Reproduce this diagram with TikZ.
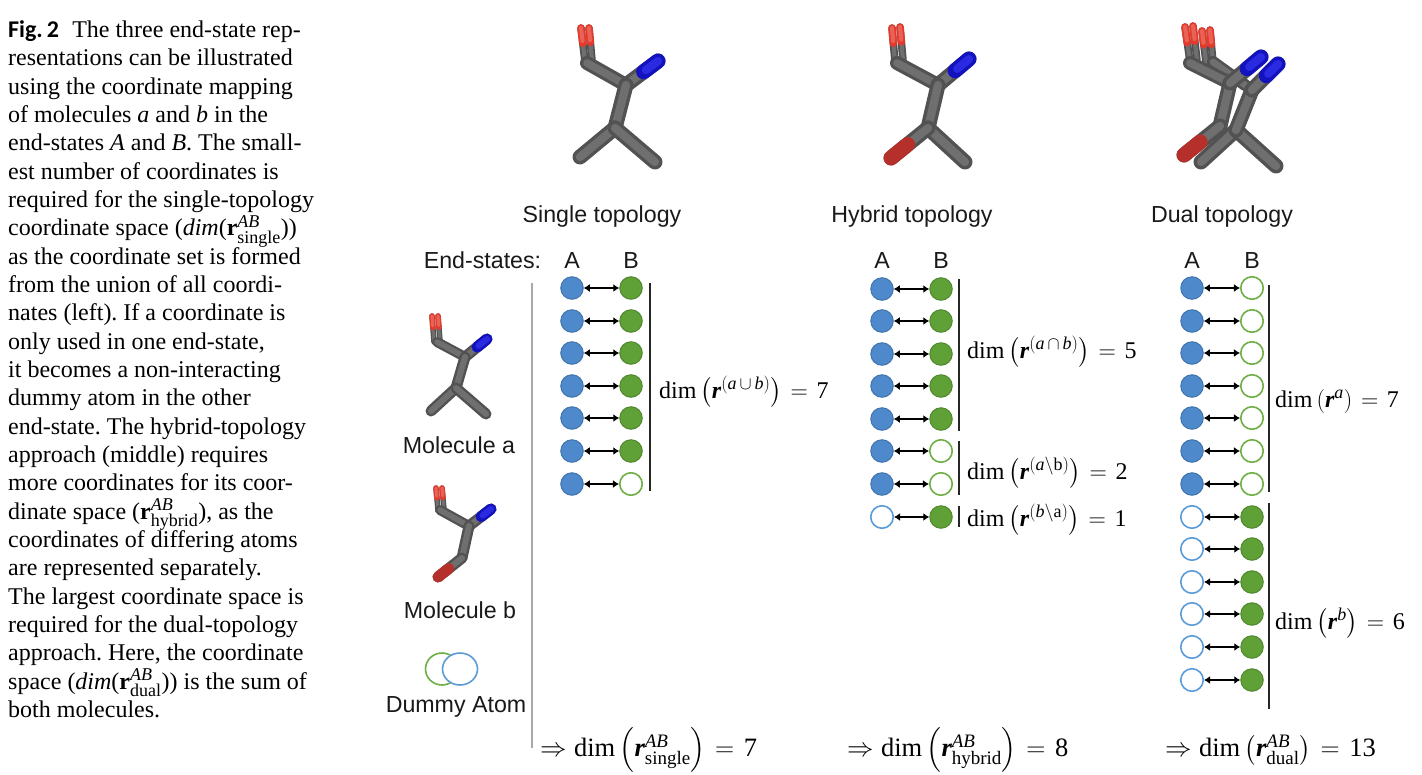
\RequirePackage{fix-cm}
\documentclass[tikz,border=0pt]{standalone}
\usepackage{amsmath}
\usepackage{fontspec}
\setmainfont{Liberation Serif}
\setsansfont{Liberation Sans}
\newfontfamily\figfont{Carlito}
\usetikzlibrary{arrows.meta,calc,shapes.geometric}
\DeclareMathSizes{24}{24}{18}{13}
\DeclareMathSizes{26.5}{26.5}{19}{14}
\setlength{\lineskiplimit}{-20pt}
\setlength{\normallineskiplimit}{-20pt}
\definecolor{dotblue}{HTML}{4E89CB}
\definecolor{dotblueedge}{HTML}{3F74AD}
\definecolor{dotgreen}{HTML}{5FA136}
\definecolor{dotgreenedge}{HTML}{50882E}
\definecolor{hollowblue}{HTML}{5B9BD5}
\definecolor{hollowgreen}{HTML}{6DAE45}
\definecolor{stickdark}{HTML}{525252}
\definecolor{sticklight}{HTML}{6F6F6F}
\definecolor{oxy}{HTML}{E5392B}
\definecolor{oxydark}{HTML}{B5302A}
\definecolor{nitro}{HTML}{1212BE}
\definecolor{nitrolight}{HTML}{2A2AE0}
\definecolor{rulegray}{HTML}{A8A8A8}
\newcommand\rvec{\text{\bfseries\itshape r}}
\newcommand\eqto[1]{\mkern1.5mu=\mkern1.5mu\mathrm{#1}}
% gray bond: start, end, width
\newcommand\gbond[3]{%
  \draw[line cap=round,stickdark,line width=#3pt] #1 -- #2;
  \draw[line cap=round,sticklight,line width=.55*#3pt] #1 -- #2;}
% half coloured bond: start, end, width, colour, light colour
\newcommand\cbond[5]{%
  \gbond{#1}{#2}{#3}
  \draw[line cap=round,#4,line width=#3pt] ($#1!0.55!#2$) -- #2;
  \draw[line cap=round,#5,line width=.55*#3pt] ($#1!0.62!#2$) -- #2;}
\tikzset{
  sanslabel/.style={font=\sffamily\fontsize{23.2}{27}\selectfont,text=black!90,inner sep=0pt,anchor=base},
  mathlabel/.style={font=\fontsize{24}{28}\selectfont,inner sep=0pt,anchor=west},
  sumlabel/.style={font=\fontsize{26.5}{30}\selectfont,inner sep=0pt,anchor=west},
  atom/.style={circle,inner sep=0pt,minimum size=22.5pt,line width=1pt},
  atomA/.style={atom,fill=dotblue,draw=dotblueedge},
  atomB/.style={atom,fill=dotgreen,draw=dotgreenedge},
  dummyA/.style={atom,fill=white,draw=hollowblue,line width=1.6pt},
  dummyB/.style={atom,fill=white,draw=hollowgreen,line width=1.6pt},
  link/.style={{Latex[length=6pt,width=8pt]}-{Latex[length=6pt,width=8pt]},line width=1.4pt,black},
  groupbar/.style={line width=1.9pt,black!85},
}
\begin{document}
\begin{tikzpicture}[x=1pt,y=-1pt]
\useasboundingbox (0,0) rectangle (1422,774);
% caption
\node[anchor=north west,inner sep=0pt,align=left,font=\fontsize{24}{28.33}\selectfont\frenchspacing] (caption) at (8,20.5) {%
{\figfont\bfseries Fig.\,2}\hspace{0.55em}The three end-state rep-\\
resentations can be illustrated\\
using the coordinate mapping\\
of molecules \textit{a} and \textit{b} in the\\
end-states \textit{A} and \textit{B}. The small-\\
est number of coordinates is\\
required for the single-topology\\
coordinate space (\textit{dim}($\mathbf{r}^{\mathit{AB}}_{\mathrm{single}}$))\\
as the coordinate set is formed\\
from the union of all coordi-\\
nates (left). If a coordinate is\\
only used in one end-state,\\
it becomes a non-interacting\\
dummy atom in the other\\
end-state. The hybrid-topology\\
approach (middle) requires\\
more coordinates for its coor-\\
dinate space ($\mathbf{r}^{\mathit{AB}}_{\mathrm{hybrid}}$), as the\\
coordinates of differing atoms\\
are represented separately.\\
The largest coordinate space is\\
required for the dual-topology\\
approach. Here, the coordinate\\
space (\textit{dim}($\mathbf{r}^{\mathit{AB}}_{\mathrm{dual}}$)) is the sum of\\
both molecules.};
% top molecule: single
\cbond{(585,62)}{(581,28)}{7.5}{oxy}{oxy!80!white}
\cbond{(592,60)}{(589,28)}{7.5}{oxy}{oxy!80!white}
\gbond{(587,63)}{(626,85)}{14}
\cbond{(626,85)}{(658,61)}{15}{nitro}{nitrolight}
\gbond{(626,85)}{(615,128)}{15}
\gbond{(615,128)}{(580,157)}{15}
\gbond{(615,128)}{(655,162)}{15}
% top molecule: hybrid
\cbond{(895,62)}{(892,28)}{7.5}{oxy}{oxy!80!white}
\cbond{(903,60)}{(900,27)}{7.5}{oxy}{oxy!80!white}
\gbond{(897,63)}{(938,85)}{14}
\cbond{(938,85)}{(969,59)}{15}{nitro}{nitrolight}
\gbond{(938,85)}{(928,128)}{15}
\gbond{(928,128)}{(965,162)}{15}
\cbond{(928,128)}{(891,158)}{15}{oxydark}{oxydark}
% top molecule: dual
\cbond{(1213,62)}{(1210,30)}{7.5}{oxy}{oxy!80!white}
\cbond{(1206,62)}{(1202,31)}{7.5}{oxy}{oxy!80!white}
\gbond{(1213,62)}{(1245,85)}{12}
\cbond{(1190,62)}{(1185,27)}{7.5}{oxy}{oxy!80!white}
\cbond{(1197,60)}{(1193,26)}{7.5}{oxy}{oxy!80!white}
\gbond{(1190,63)}{(1230,83)}{14}
\gbond{(1230,83)}{(1220,126)}{15}
\cbond{(1220,126)}{(1184,155)}{15}{oxydark}{oxydark}
\gbond{(1236,130)}{(1201,162)}{15}
\gbond{(1236,130)}{(1276,166)}{15}
\gbond{(1252,90)}{(1236,130)}{15}
\cbond{(1230,83)}{(1261,57)}{15}{nitro}{nitrolight}
\cbond{(1252,90)}{(1278,64)}{15}{nitro}{nitrolight}
% molecule a
\cbond{(434,342)}{(432,316)}{5.5}{oxy}{oxy!80!white}
\cbond{(440,341)}{(438,316)}{5.5}{oxy}{oxy!80!white}
\gbond{(437,342)}{(465,357)}{10}
\cbond{(465,357)}{(487,339)}{11}{nitro}{nitrolight}
\gbond{(465,357)}{(456,388)}{11}
\gbond{(456,388)}{(431,411)}{11}
\gbond{(456,388)}{(486,414)}{11}
% molecule b
\cbond{(438,510)}{(436,488)}{5.5}{oxy}{oxy!80!white}
\cbond{(444,509)}{(442,488)}{5.5}{oxy}{oxy!80!white}
\gbond{(440,510)}{(469,526)}{10}
\cbond{(469,526)}{(491,509)}{11}{nitro}{nitrolight}
\gbond{(469,526)}{(462,558)}{11}
\cbond{(462,558)}{(438,577)}{11}{oxydark}{oxydark}
% headings
\node[sanslabel] (hs) at (602,222) {Single topology};
\node[sanslabel] (hh) at (912,222) {Hybrid topology};
\node[sanslabel] (hd) at (1222,222) {Dual topology};
\node[sanslabel] (es) at (482.5,268) {End-states:};
\node[sanslabel] (sA) at (572,268) {A};
\node[sanslabel] (sB) at (631,268) {B};
\node[sanslabel] (hA) at (882,268) {A};
\node[sanslabel] (hB) at (941,268) {B};
\node[sanslabel] (dA) at (1192,268) {A};
\node[sanslabel] (dB) at (1252,268) {B};
\node[sanslabel] (ma) at (459,453) {Molecule a};
\node[sanslabel] (mb) at (460,618) {Molecule b};
\node[sanslabel] (da) at (456,712) {Dummy Atom};
% dummy legend
\node[draw=hollowgreen,line width=1.6pt,ellipse,minimum width=33pt,minimum height=32pt,inner sep=0pt,fill=white] (lg) at (442,669) {};
\node[draw=hollowblue,line width=1.6pt,ellipse,minimum width=35pt,minimum height=32pt,inner sep=0pt,fill=white] (lb) at (460,669) {};
% left rule
\coordinate (rt) at (532,283);
\coordinate (rb) at (532,748);
\draw[rulegray,line width=1.8pt] (rt) -- (rb);
% atoms: prefix, row, A style, B style, xA, xB, y
\newcommand\atompair[7]{%
  \node[#3] (#1a#2) at (#5,#7) {};
  \node[#4] (#1b#2) at (#6,#7) {};
  \draw[link] (#1a#2) -- (#1b#2);}
% single
\foreach \i/\y in {1/288,2/321,3/353,4/386,5/418,6/451}{\atompair{s}{\i}{atomA}{atomB}{572}{631}{\y}}
\atompair{s}{7}{atomA}{dummyB}{572}{631}{484}
% hybrid
\foreach \i/\y in {1/289,2/321,3/354,4/386,5/419}{\atompair{h}{\i}{atomA}{atomB}{882}{941}{\y}}
\foreach \i/\y in {6/451,7/484}{\atompair{h}{\i}{atomA}{dummyB}{882}{941}{\y}}
\atompair{h}{8}{dummyA}{atomB}{882}{941}{517}
% dual
\foreach \i/\y in {1/288,2/321,3/353,4/386,5/418,6/451,7/484}{\atompair{d}{\i}{atomA}{dummyB}{1192}{1252}{\y}}
\foreach \i/\y in {8/517,9/549,10/582,11/614,12/647,13/680}{\atompair{d}{\i}{dummyA}{atomB}{1192}{1252}{\y}}
% bars
\draw[groupbar] (650,283) coordinate (b1t) -- (650,491) coordinate (b1b);
\draw[groupbar] (959,279) coordinate (b2t) -- (959,431) coordinate (b2b);
\draw[groupbar] (959,441) coordinate (b3t) -- (959,495) coordinate (b3b);
\draw[groupbar] (959,506) coordinate (b4t) -- (959,527) coordinate (b4b);
\draw[groupbar] (1269,285) coordinate (b5t) -- (1269,492) coordinate (b5b);
\draw[groupbar] (1269,503) coordinate (b6t) -- (1269,709) coordinate (b6b);
% dimension labels
\node[mathlabel] (l1) at (659,392) {$\dim\left(\rvec^{(\mathit{a}\,\cup\,\mathit{b})}\right)\eqto{7}$};
\node[mathlabel] (l2) at (967,352) {$\dim\left(\rvec^{(\mathit{a}\,\cap\,\mathit{b})}\right)\eqto{5}$};
\node[mathlabel] (l3) at (967,473) {$\dim\left(\rvec^{(\mathit{a}\backslash\mathrm{b})}\right)\eqto{2}$};
\node[mathlabel] (l4) at (967,520) {$\dim\left(\rvec^{(\mathit{b}\backslash\mathrm{a})}\right)\eqto{1}$};
\node[mathlabel] (l5) at (1275,401) {$\dim\left(\rvec^{\mathit{a}}\right)\eqto{7}$};
\node[mathlabel] (l6) at (1275,623) {$\dim\left(\rvec^{\mathit{b}}\right)\eqto{6}$};
\node[sumlabel] (t1) at (540,750) {$\Rightarrow\dim\left(\rvec^{\mathit{AB}}_{\mathrm{single}}\right)\eqto{7}$};
\node[sumlabel] (t2) at (847,750) {$\Rightarrow\dim\left(\rvec^{\mathit{AB}}_{\mathrm{hybrid}}\right)\eqto{8}$};
\node[sumlabel] (t3) at (1165,750) {$\Rightarrow\dim\left(\rvec^{\mathit{AB}}_{\mathrm{dual}}\right)\eqto{13}$};
\end{tikzpicture}
\end{document}
